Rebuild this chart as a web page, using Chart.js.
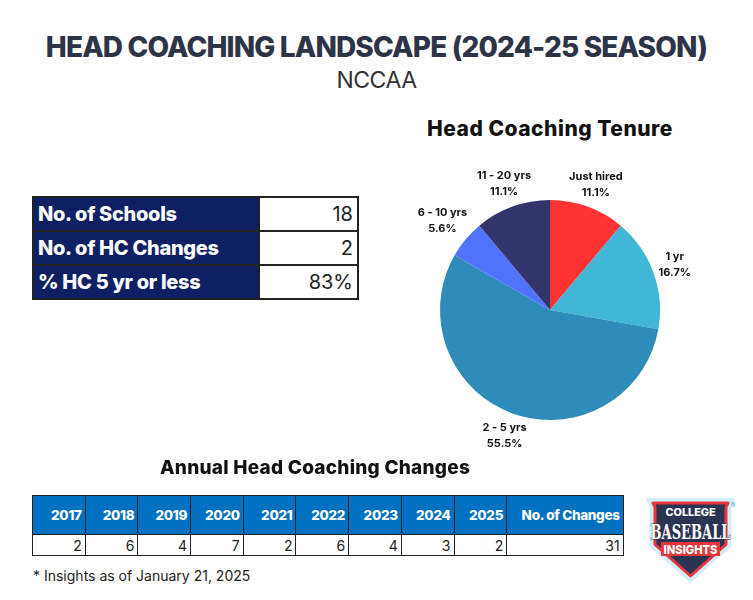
<!DOCTYPE html>
<html><head><meta charset="utf-8">
<script src="https://cdn.jsdelivr.net/npm/chart.js@4"></script>
<style>
body{margin:0;width:753px;height:600px;background:#fff;position:relative;overflow:hidden;font-family:Inter,"Open Sans",sans-serif;color:#000;}
.abs{position:absolute;}
#title{left:0;width:753px;top:30px;text-align:center;font-weight:800;font-size:28px;color:#2e3448;letter-spacing:-0.85px;white-space:nowrap;}
#sub{left:0;width:753px;top:66px;text-align:center;font-weight:400;font-size:23px;color:#333;letter-spacing:-0.5px;}
#pieTitle{left:400px;width:300px;top:116px;text-align:center;font-weight:800;font-size:21px;color:#111;letter-spacing:0.5px;white-space:nowrap;}
#pieBox{left:400px;top:160px;width:300px;height:300px;}
#summary{left:32px;top:196px;border-collapse:collapse;}
#summary td{border:2px solid #222;height:34px;padding:0 4px;font-size:20px;box-sizing:border-box;}
#summary td.k{background:#0e2063;color:#fff;font-weight:800;width:226px;letter-spacing:-0.3px;white-space:nowrap;}
#summary td.v{background:#fff;color:#222;text-align:right;width:99px;font-weight:400;}
#annTitle{left:0;width:630px;top:456px;text-align:center;font-weight:800;font-size:19px;color:#111;letter-spacing:0.25px;white-space:nowrap;}
#annual{left:32px;top:495px;border-collapse:collapse;}
#annual td,#annual th{border:1.5px solid #222;padding:0 3px;text-align:right;box-sizing:border-box;}
#annual th{background:#0070c0;color:#fff;font-weight:800;font-size:13.5px;height:39px;letter-spacing:-0.3px;white-space:nowrap;}
#annual td{background:#fff;color:#222;font-size:14px;height:21px;font-weight:400;}
#annual .y{width:52.7px;}
#annual .t{width:116.5px;}
#note{left:33px;top:567px;font-size:14px;color:#222;}
#logo{left:640px;top:496px;width:105px;height:92px;overflow:visible;}
</style></head>
<body>
<div id="title" class="abs">HEAD COACHING LANDSCAPE (2024-25 SEASON)</div>
<div id="sub" class="abs">NCCAA</div>
<div id="pieTitle" class="abs">Head Coaching Tenure</div>
<div id="pieBox" class="abs"><canvas id="pie"></canvas></div>
<table id="summary" class="abs"></table>
<div id="annTitle" class="abs">Annual Head Coaching Changes</div>
<table id="annual" class="abs"></table>
<div id="note" class="abs">* Insights as of January 21, 2025</div>
<svg id="logo" class="abs" viewBox="0 0 105 92">
  <path d="M8 3.5 L93 3.5 L90 9 L90 50 L50.5 85 L11 50 L11 9 Z" fill="#d3edf9" stroke="#d3edf9" stroke-width="3" stroke-linejoin="round"/>
  <path d="M13 7 L88 7 L86 11 L86 48.5 L50.5 80 L15 48.5 L15 11 Z" fill="#2b3352" stroke="#e8363c" stroke-width="3" stroke-linejoin="round"/>
  <text class="fit" data-cx="50.5" data-by="19.5" data-w="50" data-cap="7.5" x="0" y="0" text-anchor="middle" font-family="Inter,sans-serif" font-weight="800" font-size="11" fill="#fff">COLLEGE</text>
  <rect x="21" y="46" width="59" height="14" fill="#e8363c"/>
  <text class="fit" data-cx="50.5" data-by="42.5" data-w="80" data-cap="15" x="0" y="0" text-anchor="middle" font-family="'DejaVu Serif',serif" font-weight="700" font-size="20" fill="#fff" stroke="#2b3352" stroke-width="0.9" paint-order="stroke">BASEBALL</text>
  <text class="fit" data-cx="50.5" data-by="57.5" data-w="54" data-cap="9" x="0" y="0" text-anchor="middle" font-family="Inter,sans-serif" font-weight="800" font-size="12" fill="#fff">INSIGHTS</text>
  <text x="93" y="12" text-anchor="middle" font-family="Inter,sans-serif" font-size="7" fill="#42b6d6">®</text>
</svg>
<script>
// ---- data ----
const tenureLabels = ['Just hired', '1 yr', '2 - 5 yrs', '6 - 10 yrs', '11 - 20 yrs'];
const tenureValues = [11.1, 16.7, 55.5, 5.6, 11.1];
const tenureColors = ['#ff3334', '#42b6d6', '#2e8cba', '#5073ff', '#32356b'];

const summaryLabels = ['No. of Schools', 'No. of HC Changes', '% HC 5 yr or less'];
const summaryValues = ['18', '2', '83%'];

const years = ['2017', '2018', '2019', '2020', '2021', '2022', '2023', '2024', '2025'];
const yearChanges = [2, 6, 4, 7, 2, 6, 4, 3, 2];
const totalLabel = 'No. of Changes';
const totalChanges = 31;

// ---- logo text fitting ----
document.querySelectorAll('#logo text.fit').forEach(t => {
  const w = t.getComputedTextLength();
  const fs = parseFloat(t.getAttribute('font-size'));
  const capRatio = t.getAttribute('font-family').indexOf('DejaVu') >= 0 ? 0.729 : 0.727;
  const sx = parseFloat(t.dataset.w) / w;
  const sy = parseFloat(t.dataset.cap) / (fs * capRatio);
  t.setAttribute('transform', `translate(${t.dataset.cx},${t.dataset.by}) scale(${sx},${sy})`);
});

// ---- tables ----
const sum = document.getElementById('summary');
summaryLabels.forEach((l, i) => {
  const tr = document.createElement('tr');
  const a = document.createElement('td'); a.className = 'k'; a.textContent = l;
  const b = document.createElement('td'); b.className = 'v'; b.textContent = summaryValues[i];
  tr.appendChild(a); tr.appendChild(b); sum.appendChild(tr);
});
const ann = document.getElementById('annual');
const hr = document.createElement('tr');
years.forEach(y => { const th = document.createElement('th'); th.className = 'y'; th.textContent = y; hr.appendChild(th); });
const thT = document.createElement('th'); thT.className = 't'; thT.textContent = totalLabel; hr.appendChild(thT);
ann.appendChild(hr);
const dr = document.createElement('tr');
yearChanges.forEach(v => { const td = document.createElement('td'); td.textContent = v; dr.appendChild(td); });
const tdT = document.createElement('td'); tdT.textContent = totalChanges; dr.appendChild(tdT);
ann.appendChild(dr);

// ---- pie ----
const outsideLabels = {
  id: 'outsideLabels',
  afterDatasetsDraw(chart) {
    const ctx = chart.ctx;
    const meta = chart.getDatasetMeta(0);
    ctx.save();
    ctx.font = '700 11px Inter, sans-serif';
    ctx.fillStyle = '#111';
    ctx.textAlign = 'center';
    ctx.textBaseline = 'middle';
    meta.data.forEach((arc, i) => {
      const p = arc.getProps(['x', 'y', 'startAngle', 'endAngle', 'outerRadius'], true);
      const mid = (p.startAngle + p.endAngle) / 2;
      const ux = Math.cos(mid), uy = Math.sin(mid);
      const l1 = chart.data.labels[i];
      const l2 = chart.data.datasets[0].data[i].toFixed(1) + '%';
      const w = Math.max(ctx.measureText(l1).width, ctx.measureText(l2).width) / 2;
      const h = 13;
      const d = p.outerRadius + 3 + w * Math.abs(ux) + h * Math.abs(uy);
      const cx = p.x + ux * d, cy = p.y + uy * d;
      ctx.fillText(l1, cx, cy - 7.5);
      ctx.fillText(l2, cx, cy + 8.5);
    });
    ctx.restore();
  }
};
new Chart(document.getElementById('pie'), {
  type: 'pie',
  data: {
    labels: tenureLabels,
    datasets: [{ data: tenureValues, backgroundColor: tenureColors, borderWidth: 0 }]
  },
  options: {
    responsive: true,
    maintainAspectRatio: false,
    animation: false,
    layout: { padding: 40 },
    plugins: { legend: { display: false }, tooltip: { enabled: false } }
  },
  plugins: [outsideLabels]
});
</script>
</body></html>
